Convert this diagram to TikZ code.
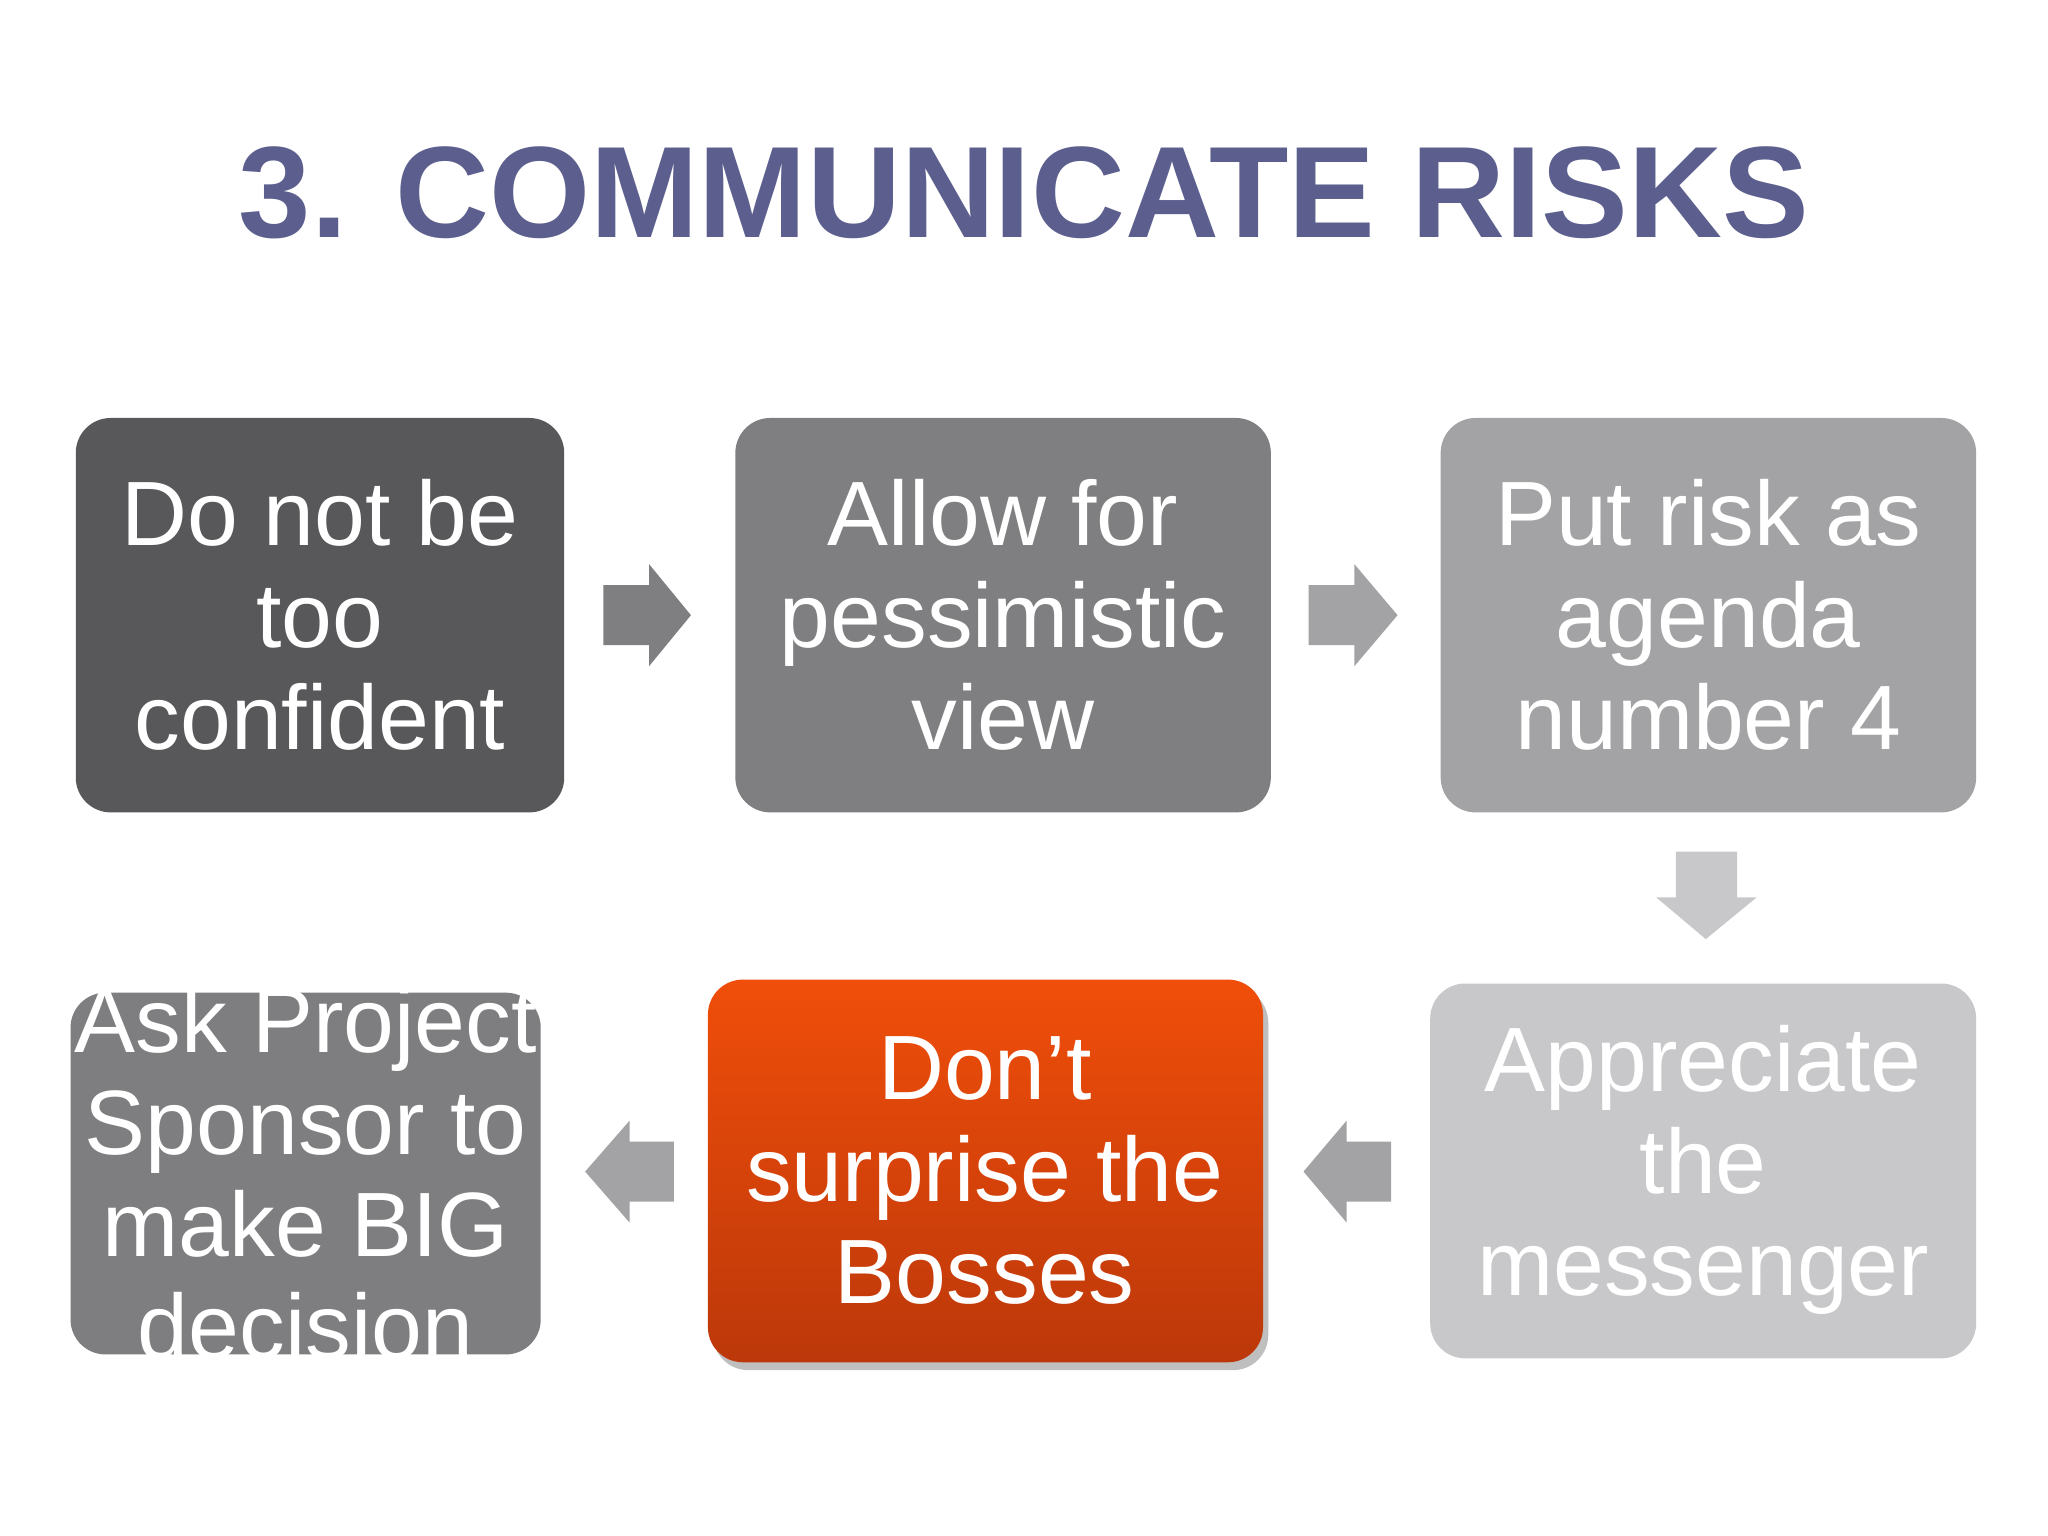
\documentclass[tikz,border=0pt]{standalone}
\usepackage{fontspec}
\setmainfont{Liberation Sans}
\begin{document}
\begin{tikzpicture}[x=0.013061cm,y=-0.013061cm,
  box/.style={rounded corners=0.35cm,text=white,align=center,font=\fontsize{26}{29}\selectfont},
  arr/.style={fill=#1,draw=none}]
\definecolor{c1}{HTML}{58585A}\definecolor{c2}{HTML}{7F7E80}
\definecolor{c3}{HTML}{A3A2A4}\definecolor{c4}{HTML}{C8C7C9}
\definecolor{c6}{HTML}{7E7D7F}\definecolor{ttl}{HTML}{5C5F8E}
\definecolor{otop}{HTML}{F04E0A}\definecolor{obot}{HTML}{BC380A}
\useasboundingbox (0,0) rectangle (1568,1176);
\node[font=\bfseries\fontsize{37}{40}\selectfont,text=ttl] (title) at (784,148) {3. COMMUNICATE RISKS};
\path[box,fill=c1] (58,320) rectangle (432,622);
\node[box] (b1) at (245,471) {Do not be\\too\\confident};
\path[box,fill=c2] (563,320) rectangle (973,622);
\node[box] (b2) at (768,471) {Allow for\\pessimistic\\view};
\path[box,fill=c3] (1103,320) rectangle (1513,622);
\node[box] (b3) at (1308,471) {Put risk as\\agenda\\number 4};
\path[box,fill=c4] (1095,753) rectangle (1513,1040);
\node[box] (b4) at (1304,896) {Appreciate\\the\\messenger};
\fill[black!25,rounded corners=0.35cm] (546,756) rectangle (971,1049);
\path[box,top color=otop,bottom color=obot] (542,750) rectangle (967,1043);
\node[box] (b5) at (754,896) {Don’t\\surprise the\\Bosses};
\path[box,fill=c6] (54,760) rectangle (414,1037);
\node[box] (b6) at (234,898) {Ask Project\\Sponsor to\\make BIG\\decision};
% arrows
\fill[c2] (462,448) -- (497,448) -- (497,432) -- (529,471) -- (497,510) -- (497,494) -- (462,494) -- cycle;
\fill[c3] (1002,448) -- (1037,448) -- (1037,432) -- (1070,471) -- (1037,510) -- (1037,494) -- (1002,494) -- cycle;
\fill[c4] (1283,652) -- (1330,652) -- (1330,687) -- (1345,687) -- (1306,719) -- (1268,687) -- (1283,687) -- cycle;
\fill[c3] (1065,874) -- (1031,874) -- (1031,858) -- (998,897) -- (1031,936) -- (1031,920) -- (1065,920) -- cycle;
\fill[c3] (516,874) -- (482,874) -- (482,858) -- (448,897) -- (482,936) -- (482,920) -- (516,920) -- cycle;
\end{tikzpicture}
\end{document}
